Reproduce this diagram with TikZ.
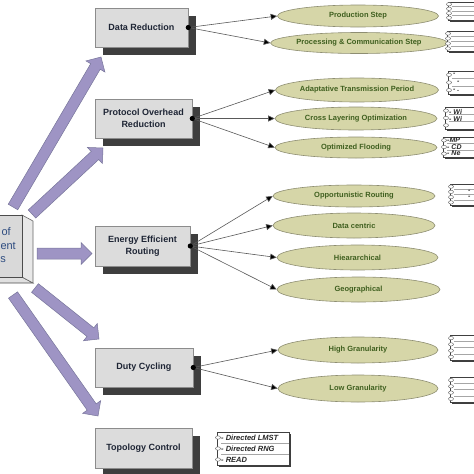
\documentclass[tikz,border=0pt]{standalone}
\usepackage{fontspec}
\setmainfont{Liberation Sans}
\usetikzlibrary{calc,arrows.meta,shapes.geometric,shadows}
\definecolor{boxfill}{HTML}{DCDCDC}
\definecolor{boxline}{HTML}{8C8C8C}
\definecolor{shadowc}{HTML}{3E3E3E}
\definecolor{ellfill}{HTML}{D6D6A8}
\definecolor{elline}{HTML}{8E8E72}
\definecolor{elltext}{HTML}{3F5F1F}
\definecolor{purp}{HTML}{9E94C4}
\definecolor{purpline}{HTML}{77759A}
\definecolor{boxtext}{HTML}{1E2535}
\definecolor{centext}{HTML}{2E4C80}
\tikzset{
  mainbox/.style={draw=boxline, fill=boxfill, line width=0.6pt, inner sep=0pt,
    general shadow={fill=shadowc, shadow xshift=7.5pt, shadow yshift=-7.5pt},
    text=boxtext, align=center, font=\bfseries\fontsize{9}{11.5}\selectfont},
  leaf/.style={ellipse, draw=elline, fill=ellfill, line width=0.6pt, inner sep=0pt,
    minimum width=161pt, text=elltext, font=\bfseries\fontsize{7.5}{8.5}\selectfont},
  conn/.style={draw=black!65, line width=0.6pt, -{Triangle[length=6.5pt,width=6pt,fill=black]}},
  fatarr/.style={fill=purp, draw=purpline, line width=0.5pt},
  padborder/.style={draw=black!75, fill=white, line width=0.5pt},
  padrule/.style={draw=black!35, line width=0.4pt},
  padring/.style={draw=black!60, fill=white, line width=0.45pt},
  padtext/.style={anchor=west, inner sep=0pt, text=black!85, font=\bfseries\itshape\fontsize{7}{7.5}\selectfont},
  padtextbig/.style={padtext, font=\bfseries\itshape\fontsize{7.5}{8}\selectfont},
  centre/.style={anchor=east, inner sep=0pt, text=centext, font=\fontsize{11}{13}\selectfont},
  dotc/.style={fill=black}
}
\newcommand\fatarrow[2]{%
  \coordinate (fa-bp) at ($(#2)!11pt!(#1)$);
  \draw[fatarr] ($(#1)!5.5pt!90:(#2)$) -- ($(fa-bp)!5.5pt!-90:(#1)$) -- ($(fa-bp)!11pt!-90:(#1)$)
    -- (#2) -- ($(fa-bp)!11pt!90:(#1)$) -- ($(fa-bp)!5.5pt!90:(#1)$) -- ($(#1)!5.5pt!-90:(#2)$) -- cycle;}
\newcommand\notepad[5]{%
  \fill[shadowc] ({#1+2},{#2+2}) rectangle ({#1+#3+2},{#2+#4+2});
  \draw[padborder] (#1,#2) rectangle ({#1+#3},{#2+#4});
  \foreach \r in {1,...,#5}{%
    \pgfmathsetmacro\ry{#2+(\r-0.5)*#4/#5}
    \pgfmathsetmacro\ly{#2+\r*#4/#5}
    \ifnum\r<#5 \draw[padrule] ({#1+4},\ly) -- ({#1+#3},\ly);\fi
    \draw[padring] ({#1+1},\ry) ellipse [x radius=2.5pt, y radius=1.7pt];
  }}
\begin{document}
\begin{tikzpicture}[x=1pt,y=-1pt]
\useasboundingbox (0,0) rectangle (474,474);
\clip (0,0) rectangle (474,474);
% central 3D box
\draw[draw=black!70, fill=black!12, line width=0.6pt] (-60,277) -- (22,277) -- (33,283) -- (-49,283) -- cycle;
\draw[draw=black!60, fill=black!9, line width=0.6pt] (22,215) -- (33,221) -- (33,283) -- (22,277) -- cycle;
\draw[draw=black!70, fill=black!15, line width=0.7pt] (-60,215) rectangle (22,277);
\node[centre] (c1) at (11,232) {of};
\node[centre] (c2) at (16,246) {ent};
\node[centre] (c3) at (6,260) {s};
% fat arrows
\coordinate (a1s) at (13,207);  \coordinate (a1e) at (101,57);
\coordinate (a2s) at (32,214);  \coordinate (a2e) at (103,148);
\coordinate (a3s) at (37,253.5);\coordinate (a3e) at (92,253.5);
\coordinate (a4s) at (35,288);  \coordinate (a4e) at (99,339);
\coordinate (a5s) at (13,295);  \coordinate (a5e) at (98,416);
\fatarrow{a1s}{a1e}
\fatarrow{a2s}{a2e}
\fatarrow{a3s}{a3e}
\fatarrow{a4s}{a4e}
\fatarrow{a5s}{a5e}
% category boxes
\node[mainbox, minimum width=93pt, minimum height=39pt] (dr) at (141.5,27.5) {Data Reduction};
\node[mainbox, minimum width=97pt, minimum height=39pt] (po) at (143.5,118.5) {Protocol Overhead\\Reduction};
\node[mainbox, minimum width=95pt, minimum height=40pt] (ee) at (142.5,246) {Energy Efficient\\Routing};
\node[mainbox, minimum width=98pt, minimum height=39pt] (dc) at (144,367.5) {Duty Cycling};
\node[mainbox, minimum width=97pt, minimum height=40pt] (tc) at (143.5,448) {Topology Control};
% leaves
\node[leaf, minimum height=22pt] (l1) at (358,16) {Production Step};
\node[leaf, minimum height=21pt, minimum width=162pt] (l2) at (359,43) {Processing \& Communication Step};
\node[leaf, minimum height=24pt, minimum width=163pt] (l3) at (357,90) {Adaptative Transmission Period};
\node[leaf, minimum height=23pt, minimum width=162pt] (l4) at (356,118.5) {Cross Layering Optimization};
\node[leaf, minimum height=21pt, minimum width=162pt] (l5) at (356,147.5) {Optimized Flooding};
\node[leaf, minimum height=22pt, minimum width=162pt] (l6) at (354,196) {Opportunistic Routing};
\node[leaf, minimum height=25pt, minimum width=162pt] (l7) at (354,225.5) {Data centric};
\node[leaf, minimum height=25pt] (l8) at (357.5,257.5) {Hieararchical};
\node[leaf, minimum height=25pt, minimum width=163pt] (l9) at (358.5,289.5) {Geographical};
\node[leaf, minimum height=26pt, minimum width=160pt] (l10) at (358,350) {High Granularity};
\node[leaf, minimum height=27pt, minimum width=160pt] (l11) at (358,388.5) {Low Granularity};
% connectors
\draw[conn] (dr.east) -- (l1.west);
\draw[conn] (dr.east) -- (l2.west);
\draw[conn] (po.east) -- (l3.west);
\draw[conn] (po.east) -- (l4.west);
\draw[conn] (po.east) -- (l5.west);
\draw[conn] (ee.east) -- (l6.west);
\draw[conn] (ee.east) -- (l7.west);
\draw[conn] (ee.east) -- (l8.west);
\draw[conn] (ee.east) -- (l9.west);
\draw[conn] (dc.east) -- (l10.west);
\draw[conn] (dc.east) -- (l11.west);
\foreach \b in {dr,po,ee,dc}{\fill[dotc] (\b.east) circle (2.6pt);}
% note pads
\notepad{448}{2}{40}{18}{4}
\notepad{447}{31}{40}{20}{4}
\notepad{448}{71}{40}{23}{3}
\notepad{445}{107}{40}{22}{3}
\notepad{443}{137}{40}{20}{3}
\notepad{450}{184}{40}{21}{4}
\notepad{450}{335}{40}{25}{4}
\notepad{450}{377}{40}{25}{4}
\notepad{217}{432}{72}{33}{3}
\node[padtext] (p3a) at (453,74.8) {- };
\node[padtext] (p3b) at (457,82.5) {-};
\node[padtext] (p3c) at (453,90.2) {- .};
\node[padtext] (p4a) at (449,111.5) {- Wi};
\node[padtext] (p4b) at (449,119) {- Wi};
\node[padtext] (p5a) at (447,140.5) {-MP};
\node[padtext] (p5b) at (447,147) {- CD};
\node[padtext] (p5c) at (447,153.5) {- Ne};
\node[padtext] (p6a) at (468,191.5) {-};
\node[padtext] (p6b) at (468,197) {-};
\node[padtextbig] (t1) at (221,437.5) {- Directed LMST};
\node[padtextbig] (t2) at (221,448.5) {- Directed RNG};
\node[padtextbig] (t3) at (221,459.5) {- READ};
\end{tikzpicture}
\end{document}
